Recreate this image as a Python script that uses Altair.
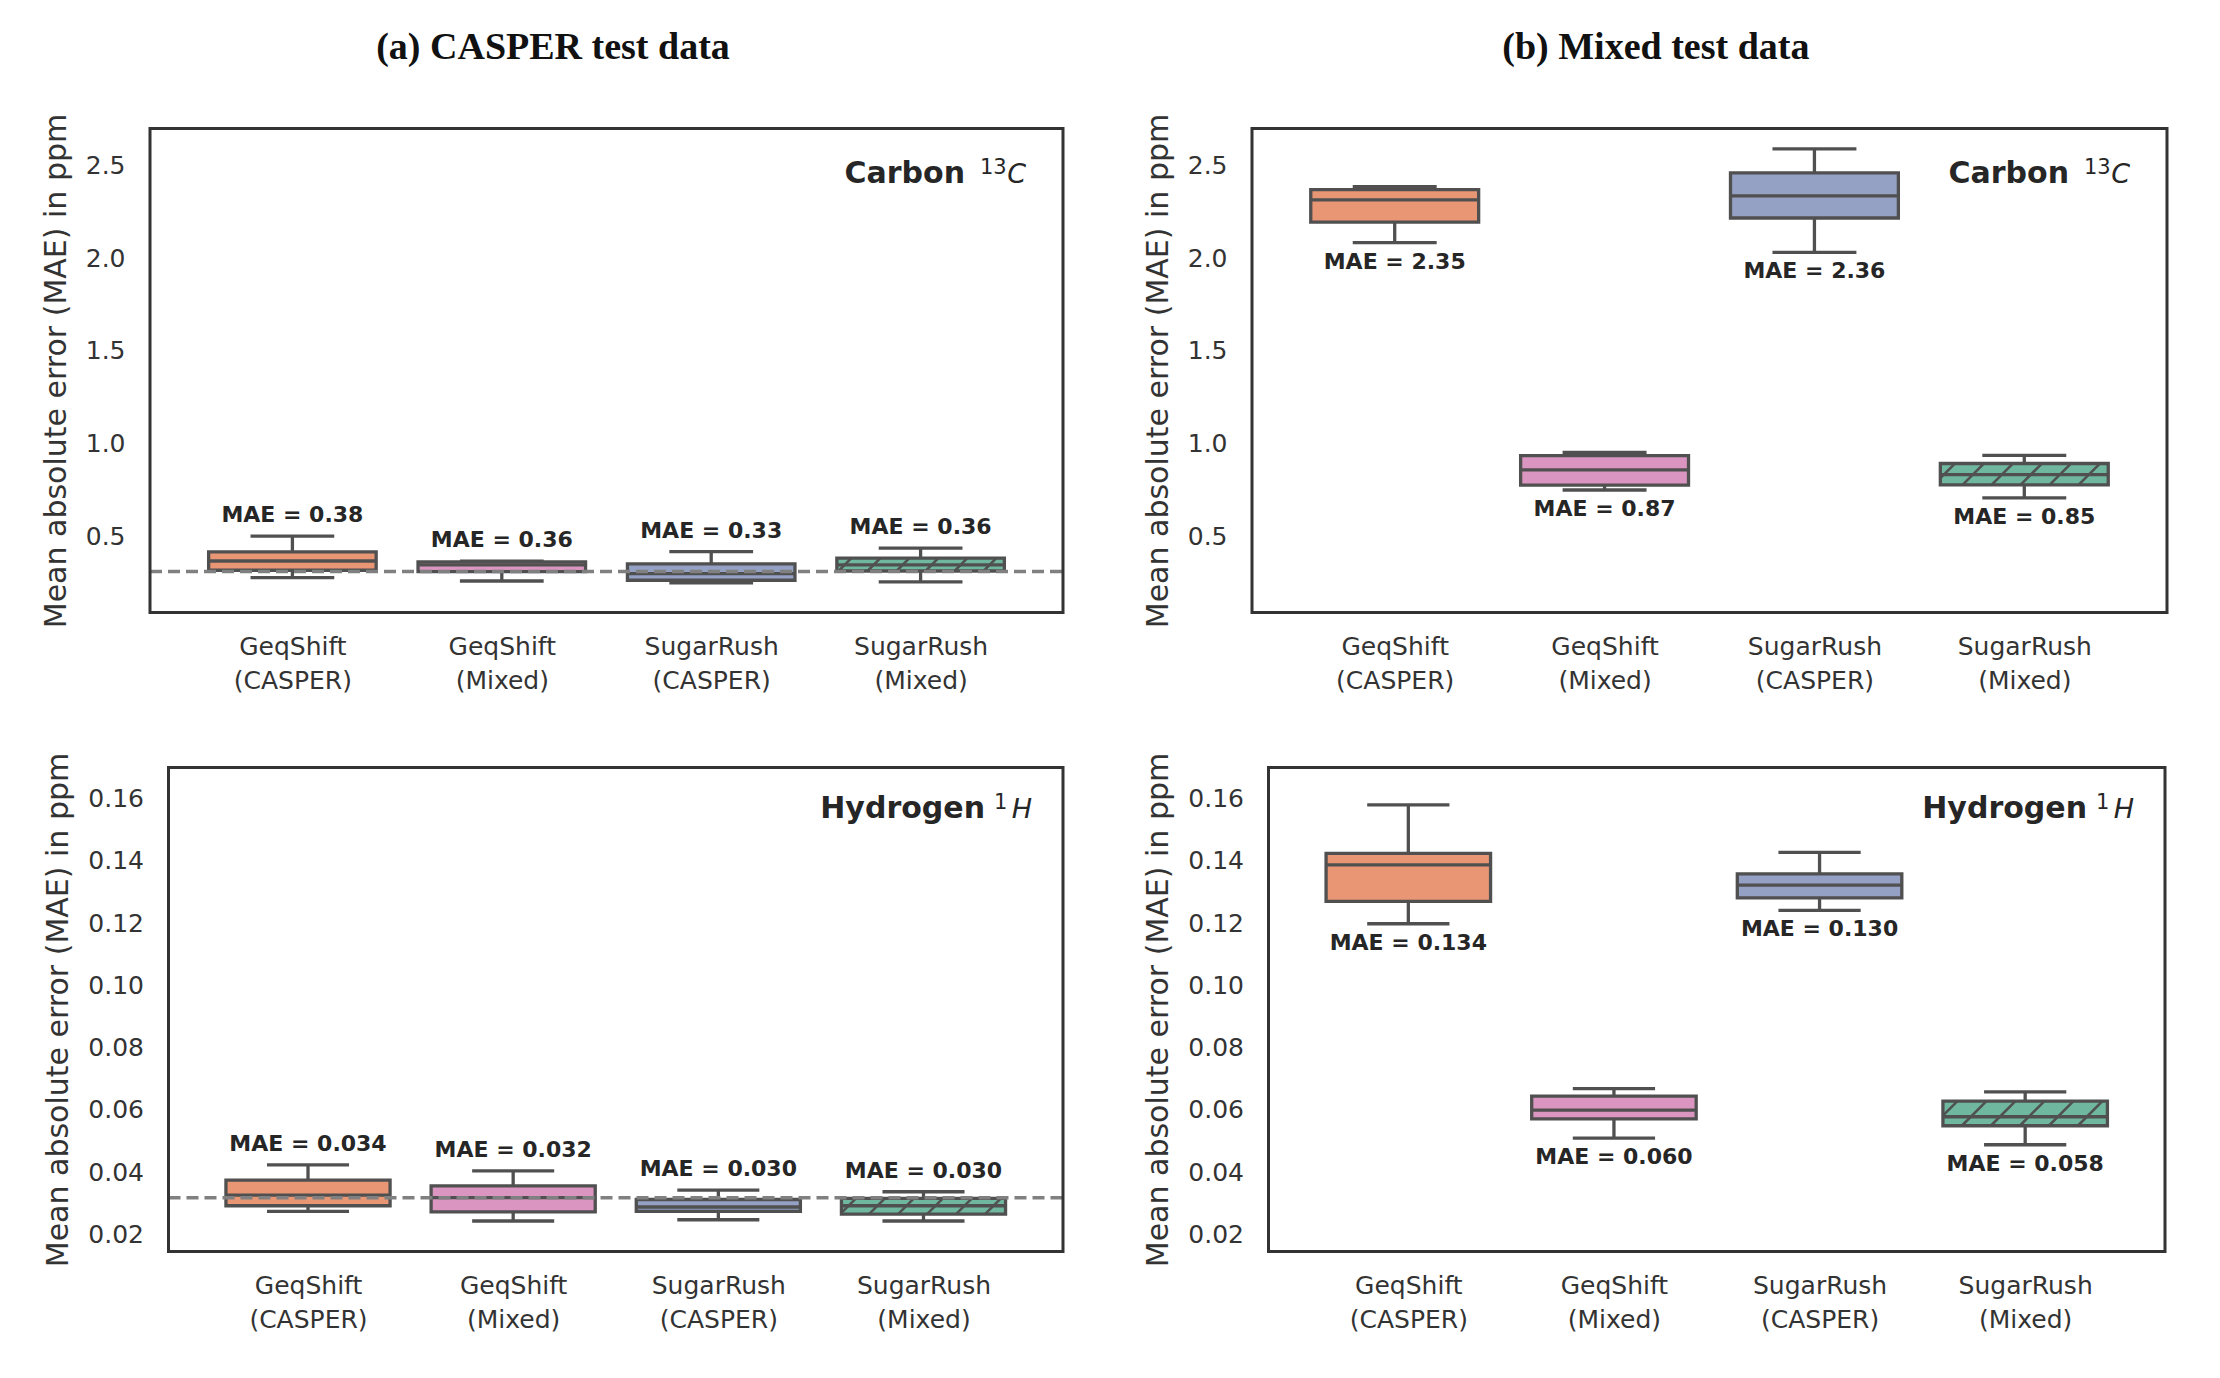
import altair as alt
import pandas as pd

# ---------------- data ----------------
MODELS = ["GeqShift (CASPER)", "GeqShift (Mixed)", "SugarRush (CASPER)", "SugarRush (Mixed)"]
LABEL_TOP = ["GeqShift", "GeqShift", "SugarRush", "SugarRush"]
LABEL_BOTTOM = ["(CASPER)", "(Mixed)", "(CASPER)", "(Mixed)"]
COLORS = ["#E99675", "#DA95C0", "#94A1C4", "#70B7A0"]
HATCHED = [False, False, False, True]

COLUMN_TITLES = ["(a) CASPER test data", "(b) Mixed test data"]
ELEMENTS = ["Carbon", "Hydrogen"]
ISOTOPES = ["13", "1"]
SYMBOLS = ["C", "H"]
Y_TITLE = "Mean absolute error (MAE) in ppm"

# Carbon, CASPER test data
CA_LO = [0.276, 0.258, 0.248, 0.253]
CA_Q1 = [0.316, 0.309, 0.262, 0.312]
CA_MED = [0.366, 0.345, 0.298, 0.345]
CA_Q3 = [0.415, 0.361, 0.350, 0.381]
CA_HI = [0.500, 0.365, 0.416, 0.435]
CA_MAE = ["MAE = 0.38", "MAE = 0.36", "MAE = 0.33", "MAE = 0.36"]
CA_REF = [0.309]

# Carbon, Mixed test data
CB_LO = [2.084, 0.749, 2.031, 0.707]
CB_Q1 = [2.195, 0.775, 2.217, 0.777]
CB_MED = [2.315, 0.858, 2.336, 0.832]
CB_Q3 = [2.370, 0.935, 2.461, 0.892]
CB_HI = [2.386, 0.952, 2.590, 0.936]
CB_MAE = ["MAE = 2.35", "MAE = 0.87", "MAE = 2.36", "MAE = 0.85"]

# Hydrogen, CASPER test data
HA_LO = [0.0274, 0.0243, 0.0247, 0.0243]
HA_Q1 = [0.0292, 0.0272, 0.0274, 0.0265]
HA_MED = [0.0326, 0.0318, 0.0288, 0.0292]
HA_Q3 = [0.0374, 0.0356, 0.0312, 0.0316]
HA_HI = [0.0423, 0.0404, 0.0342, 0.0337]
HA_MAE = ["MAE = 0.034", "MAE = 0.032", "MAE = 0.030", "MAE = 0.030"]
HA_REF = [0.0318]

# Hydrogen, Mixed test data
HB_LO = [0.1198, 0.0509, 0.1241, 0.0488]
HB_Q1 = [0.1270, 0.0571, 0.1281, 0.0549]
HB_MED = [0.1387, 0.0599, 0.1322, 0.0578]
HB_Q3 = [0.1424, 0.0644, 0.1358, 0.0628]
HB_HI = [0.1580, 0.0668, 0.1427, 0.0658]
HB_MAE = ["MAE = 0.134", "MAE = 0.060", "MAE = 0.130", "MAE = 0.058"]

C_DOMAIN = [0.088, 2.70]
C_TICKS = [0.5, 1.0, 1.5, 2.0, 2.5]
H_DOMAIN = [0.0145, 0.170]
H_TICKS = [0.02, 0.04, 0.06, 0.08, 0.10, 0.12, 0.14, 0.16]

# ---------------- style ----------------
X_DOMAIN = [-0.68, 3.68]
EDGE = "#505050"
FRAME = "#333333"
TEXT = "#333333"
BOX_HALF = 0.4
CAP_HALF = 0.2
HATCH_SPACING_PX = 29
PANEL_H = 484
LW = 3.3

label_pairs = ",".join(f"['{a}','{b}']" for a, b in zip(LABEL_TOP, LABEL_BOTTOM))
LABEL_EXPR = f"[{label_pairs}][datum.value]"


def hatch_frame(df, plot_w, H, ydom):
    x_ppu = plot_w / (X_DOMAIN[1] - X_DOMAIN[0])
    y_ppu = H / (ydom[1] - ydom[0])
    rows = []
    for _, r in df[df["hatched"]].iterrows():
        L, R = r["bx0"], r["bx1"]
        q1, q3 = r["q1"], r["q3"]
        h = (q3 - q1) * y_ppu / x_ppu
        sp = HATCH_SPACING_PX / x_ppu
        b = L - h + sp * 0.5
        while b < R:
            x0, y0, x1, y1 = b, q1, b + h, q3
            if x0 < L:
                t = (L - b) / h
                x0, y0 = L, q1 + t * (q3 - q1)
            if x1 > R:
                t = (R - b) / h
                x1, y1 = R, q1 + t * (q3 - q1)
            if x1 > x0:
                rows.append({"hx0": x0, "hx1": x1, "hy0": y0, "hy1": y1})
            b += sp
    return pd.DataFrame(rows)


def panel(lo, q1, med, q3, hi, mae, ydom, yticks, yfmt, W, inset, ref, above, k, title=None):
    df = pd.DataFrame({
        "model": MODELS, "pos": list(range(len(MODELS))),
        "lo": lo, "q1": q1, "med": med, "q3": q3, "hi": hi,
        "mae": mae, "hatched": HATCHED,
    })
    df["bx0"] = df["pos"] - BOX_HALF
    df["bx1"] = df["pos"] + BOX_HALF
    df["cx0"] = df["pos"] - CAP_HALF
    df["cx1"] = df["pos"] + CAP_HALF

    xscale = alt.Scale(domain=X_DOMAIN, range=[inset, W], nice=False, zero=False)
    yscale = alt.Scale(domain=ydom, nice=False, zero=False)
    xaxis = alt.Axis(values=[0, 1, 2, 3], labelExpr=LABEL_EXPR, title=None)
    yaxis = alt.Axis(values=yticks, format=yfmt, title=Y_TITLE, offset=-inset)

    def X(f):
        return alt.X(f"{f}:Q", scale=xscale, axis=xaxis)

    def Y(f):
        return alt.Y(f"{f}:Q", scale=yscale, axis=yaxis)

    base = alt.Chart(df)
    stem_lo = base.mark_rule(color=EDGE, strokeWidth=LW).encode(x=X("pos"), y=Y("lo"), y2="q1")
    stem_hi = base.mark_rule(color=EDGE, strokeWidth=LW).encode(x=X("pos"), y=Y("q3"), y2="hi")
    cap_lo = base.mark_rule(color=EDGE, strokeWidth=LW).encode(x=X("cx0"), x2="cx1", y=Y("lo"))
    cap_hi = base.mark_rule(color=EDGE, strokeWidth=LW).encode(x=X("cx0"), x2="cx1", y=Y("hi"))
    box = base.mark_rect(stroke=EDGE, strokeWidth=LW).encode(
        x=X("bx0"), x2="bx1", y=Y("q1"), y2="q3",
        fill=alt.Fill("model:N", scale=alt.Scale(domain=MODELS, range=COLORS), legend=None),
    )
    layers = [stem_lo, stem_hi, cap_lo, cap_hi, box]
    hdf = hatch_frame(df, W - inset, PANEL_H, ydom)
    if len(hdf):
        layers.append(alt.Chart(hdf).mark_rule(color=EDGE, strokeWidth=2.5).encode(
            x=X("hx0"), x2="hx1", y=Y("hy0"), y2="hy1"))
    layers.append(base.mark_rule(color=EDGE, strokeWidth=LW).encode(x=X("bx0"), x2="bx1", y=Y("med")))
    if ref is not None:
        layers.append(alt.Chart(pd.DataFrame({"ref": ref})).mark_rule(
            color="#808080", strokeWidth=3.5, strokeDash=[12, 6]).encode(
            y=Y("ref"), x=alt.value(inset), x2=alt.value(W)))
    if above:
        layers.append(base.mark_text(font="DejaVu Sans", fontWeight="bold", fontSize=22,
                                     color="#262626", baseline="alphabetic", dy=-14).encode(
            x=X("pos"), y=Y("hi"), text="mae:N"))
    else:
        layers.append(base.mark_text(font="DejaVu Sans", fontWeight="bold", fontSize=22,
                                     color="#262626", baseline="alphabetic", dy=26).encode(
            x=X("pos"), y=Y("lo"), text="mae:N"))

    # element annotation, e.g. "Carbon 13C"
    if k == 0:
        off_name, off_sup, off_sym, base_y = 98, 83, 37, 54
    else:
        off_name, off_sup, off_sym, base_y = 78, 69, 31, 50
    ann = pd.DataFrame({"name": [ELEMENTS[k]], "sup": [ISOTOPES[k]], "sym": [SYMBOLS[k]]})
    layers.append(alt.Chart(ann).mark_text(font="DejaVu Sans", fontWeight="bold", fontSize=30,
                                           color="#262626", align="right", baseline="alphabetic").encode(
        x=alt.value(W - off_name), y=alt.value(base_y), text="name:N"))
    layers.append(alt.Chart(ann).mark_text(font="DejaVu Sans", fontSize=21,
                                           color="#262626", align="left", baseline="alphabetic").encode(
        x=alt.value(W - off_sup), y=alt.value(base_y - 9), text="sup:N"))
    layers.append(alt.Chart(ann).mark_text(font="DejaVu Sans", fontStyle="italic", fontSize=27,
                                           color="#262626", align="right", baseline="alphabetic").encode(
        x=alt.value(W - off_sym), y=alt.value(base_y), text="sym:N"))

    # panel frame (axes spines)
    layers.append(alt.Chart(ann).mark_rect(filled=False, stroke=FRAME, strokeWidth=3).encode(
        x=alt.value(inset), x2=alt.value(W), y=alt.value(0), y2=alt.value(PANEL_H)))

    props = dict(width=W, height=PANEL_H)
    if title is not None:
        props["title"] = alt.TitleParams(title, font="Liberation Serif", fontSize=38, fontWeight="bold",
                                         anchor="middle", frame="bounds", color="#111111", offset=46)
    return alt.layer(*layers).properties(**props)


tl = panel(CA_LO, CA_Q1, CA_MED, CA_Q3, CA_HI, CA_MAE, C_DOMAIN, C_TICKS, ".1f", 913, 0, CA_REF, True, 0,
           title=COLUMN_TITLES[0])
bl = panel(HA_LO, HA_Q1, HA_MED, HA_Q3, HA_HI, HA_MAE, H_DOMAIN, H_TICKS, ".2f", 913, 18.5, HA_REF, True, 1)
tr = panel(CB_LO, CB_Q1, CB_MED, CB_Q3, CB_HI, CB_MAE, C_DOMAIN, C_TICKS, ".1f", 915, 0, None, False, 0,
           title=COLUMN_TITLES[1])
br = panel(HB_LO, HB_Q1, HB_MED, HB_Q3, HB_HI, HB_MAE, H_DOMAIN, H_TICKS, ".2f", 915, 18.5, None, False, 1)

row_top = alt.hconcat(tl, tr, spacing=78)
row_bottom = alt.hconcat(bl, br, spacing=78)

chart = alt.vconcat(row_top, row_bottom, spacing=58).properties(
    padding={"left": 41, "top": 28.5, "right": 10, "bottom": 10},
    background="white",
).configure_view(strokeWidth=0).configure_axis(
    labelFont="DejaVu Sans", labelFontSize=25, labelColor=TEXT,
    titleFont="DejaVu Sans", titleFontSize=30, titleFontWeight="normal", titleColor=TEXT,
    ticks=False, domain=False, grid=False,
).configure_axisX(labelPadding=22, labelLineHeight=34).configure_axisY(
    labelPadding=25, titlePadding=14)

chart.save("out.html", embed_options={"renderer": "svg", "actions": False})
